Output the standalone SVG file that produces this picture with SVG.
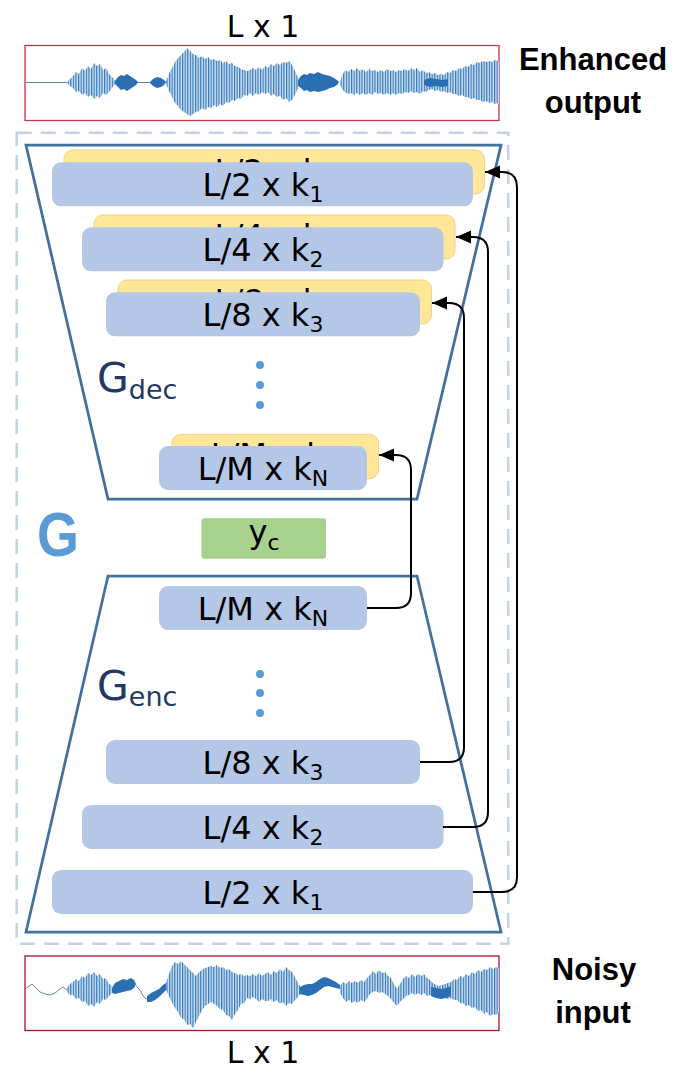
<svg xmlns="http://www.w3.org/2000/svg" width="680" height="1079" viewBox="0 0 680 1079">
<style>
.lbl{font-family:"DejaVu Sans",sans-serif;font-size:32px;fill:#000;text-anchor:middle}
.sub{font-size:22px}
.blue{fill:#b4c7e7}
.yel{fill:#ffe699;stroke:#f2d383;stroke-width:1}
.trap{fill:none;stroke:#41719c;stroke-width:2.75;stroke-linejoin:miter}
.conn{fill:none;stroke:#000;stroke-width:2;marker-end:url(#ah)}
.dot{fill:#5b9bd5}
.bold{font-family:"Liberation Sans",Arial,sans-serif;font-weight:bold;font-size:31px;fill:#000;text-anchor:middle}
.dim{font-family:"DejaVu Sans",sans-serif;font-size:30px;fill:#000;text-anchor:middle}
.gl{font-family:"DejaVu Sans",sans-serif;font-size:41px;fill:#1f3864}
.osc{fill:url(#wvp)}
.blob{fill:#2a6fb3}
.thin{fill:none;stroke:#4a7bb0;stroke-width:0.9}
</style>
<defs>
<marker id="ah" markerUnits="userSpaceOnUse" markerWidth="16" markerHeight="14" refX="15" refY="6.5" orient="auto">
<path d="M0,0 L15,6.5 L0,13 Z" fill="#000"/>
</marker>
<pattern id="wvp" width="2.6" height="8" patternUnits="userSpaceOnUse">
<rect width="2.6" height="8" fill="#d3e4f4"/>
<rect width="1.2" height="8" fill="#2e75b6"/>
</pattern>
</defs>
<rect width="680" height="1079" fill="#fff"/>

<g id="output-wave">
<text class="dim" x="263" y="37">L x 1</text>
<rect x="25" y="45.5" width="474" height="75" fill="#fff" stroke="#c0354a" stroke-width="1.3"/>
<path class="thin" d="M25,82.5 H67 M136,82.5 H152 M164,82.5 H168"/>
<path class="osc" d="M67,82 L70,79 73,76 76,72 79,74 82,68 85,71 88,66 91,69 94,63 97,66 100,64 103,70 106,68 109,74 112,77 115,81 L115,84 112,88 109,92 106,95 103,93 100,98 97,96 94,99 91,95 88,97 85,93 82,95 79,91 76,92 73,88 70,86 67,83 Z
M166,81 L169,74 172,68 175,62 178,58 181,55 184,52 187,48 190,51 193,54 196,55 199,58 202,56 205,59 208,57 211,60 214,59 217,61 220,60 223,63 226,61 229,64 232,63 235,66 238,67 241,69 244,70 247,71 250,70 253,68 256,70 259,67 262,70 265,66 268,68 271,64 274,66 277,63 280,65 283,62 286,63 289,61 292,65 295,71 298,78 L298,88 295,95 292,100 289,102 286,98 283,100 280,96 277,97 274,94 271,96 268,92 265,94 262,92 259,95 256,93 253,96 250,93 247,96 244,95 241,99 238,98 235,101 232,100 229,103 226,102 223,106 220,104 217,107 214,105 211,108 208,107 205,110 202,108 199,111 196,112 193,114 190,116 187,114 184,112 181,110 178,106 175,103 172,97 169,91 166,84 Z
M340,82 L342,76 345,70 348,72 351,69 354,71 357,68 360,71 363,69 366,72 369,69 372,71 375,70 378,72 381,70 384,72 387,69 390,71 393,70 396,72 399,70 402,71 405,69 408,71 411,68 414,70 417,68 420,72 423,70 426,73 429,72 432,74 435,73 438,75 441,74 444,75 447,72 450,73 453,70 456,71 459,68 462,69 465,66 468,67 471,64 474,65 477,62 480,63 483,61 486,62 489,61 492,62 495,60 498,61 499,62 L499,104 498,103 495,104 492,102 489,103 486,101 483,102 480,100 477,100 474,98 471,99 468,97 465,97 462,95 459,96 456,94 453,94 450,92 447,93 444,91 441,92 438,90 435,91 432,89 429,90 426,92 423,91 420,94 417,92 414,93 411,91 408,93 405,92 402,94 399,93 396,95 393,93 390,95 387,93 384,95 381,93 378,94 375,92 372,95 369,93 366,95 363,93 360,95 357,93 354,95 351,93 348,94 345,92 342,89 340,84 Z"/>
<path class="blob" d="M115,81 L118,77 121,75 124,76 127,74 130,76 133,78 136,80 138,82 136,85 133,87 130,89 127,91 124,89 121,90 118,87 115,84 Z
M150,82 L153,79 157,77 161,78 164,80 166,82 164,85 161,87 157,88 153,86 150,83 Z
M298,80 L301,76 304,74 307,75 310,73 314,74 318,72 322,74 326,75 330,76 334,78 337,80 339,82 337,85 334,87 330,88 326,90 322,91 318,92 314,91 310,92 307,90 304,91 301,88 298,86 Z
M424,80 L430,78 436,79 442,80 448,79 448,86 442,87 436,86 430,87 424,85 Z"/>
<text class="bold" x="593" y="70">Enhanced</text>
<text class="bold" x="593" y="113">output</text>
</g>

<g id="G-frame">
<rect x="16.7" y="132.7" width="491.6" height="811" fill="none" stroke="#c3d2e4" stroke-width="2.5" stroke-dasharray="15 9"/>
<text x="37" y="556" font-family="Liberation Sans, Arial, sans-serif" font-weight="bold" font-size="63" fill="#5b9bd5" textLength="42" lengthAdjust="spacingAndGlyphs">G</text>
</g>

<g id="G-dec">
<polygon class="trap" points="26,145 501,145 417,499 108,499"/>
<text class="gl" x="97" y="392">G<tspan font-size="27" dy="6.5">dec</tspan></text>
<circle class="dot" cx="260" cy="365" r="4"/>
<circle class="dot" cx="260" cy="385" r="4"/>
<circle class="dot" cx="260" cy="405" r="4"/>
</g>

<g id="dec1">
<rect class="yel" x="64" y="150" width="420.5" height="44" rx="9"/>
<text class="lbl" x="275" y="181.5">L/2 x k<tspan class="sub" dy="6">1</tspan></text>
<rect class="blue" x="52" y="162.3" width="421" height="44" rx="9"/>
<text class="lbl" x="263" y="196">L/2 x k<tspan class="sub" dy="6">1</tspan></text>
</g>
<g id="dec2">
<rect class="yel" x="94" y="215" width="361" height="44" rx="9"/>
<text class="lbl" x="275" y="246.5">L/4 x k<tspan class="sub" dy="6">2</tspan></text>
<rect class="blue" x="82" y="227.3" width="361.5" height="44" rx="9"/>
<text class="lbl" x="263" y="261">L/4 x k<tspan class="sub" dy="6">2</tspan></text>
</g>
<g id="dec3">
<rect class="yel" x="118" y="280" width="313.5" height="44" rx="9"/>
<text class="lbl" x="275" y="311.5">L/8 x k<tspan class="sub" dy="6">3</tspan></text>
<rect class="blue" x="106" y="292.3" width="314" height="44" rx="9"/>
<text class="lbl" x="263" y="326">L/8 x k<tspan class="sub" dy="6">3</tspan></text>
</g>
<g id="decN">
<rect class="yel" x="172" y="434.3" width="206.5" height="44.5" rx="9"/>
<text class="lbl" x="276" y="465.5">L/M x k<tspan class="sub" dy="6">N</tspan></text>
<rect class="blue" x="159" y="446" width="208" height="44" rx="9"/>
<text class="lbl" x="263" y="480">L/M x k<tspan class="sub" dy="6">N</tspan></text>
</g>

<g id="yc">
<rect x="201.4" y="518.3" width="124.6" height="40.4" rx="3" fill="#a9d18e"/>
<text class="lbl" x="264" y="543">y<tspan font-size="22" dy="7">c</tspan></text>
</g>

<g id="G-enc">
<polygon class="trap" points="108,576 417,576 501,932 26,932"/>
<text class="gl" x="97" y="700">G<tspan font-size="27" dy="6">enc</tspan></text>
<circle class="dot" cx="260" cy="674" r="4"/>
<circle class="dot" cx="260" cy="693" r="4"/>
<circle class="dot" cx="260" cy="713" r="4"/>
</g>

<g id="encN">
<rect class="blue" x="159" y="586" width="208" height="44" rx="9"/>
<text class="lbl" x="263" y="620">L/M x k<tspan class="sub" dy="6">N</tspan></text>
</g>
<g id="enc3">
<rect class="blue" x="106" y="740" width="314" height="44" rx="9"/>
<text class="lbl" x="263" y="774">L/8 x k<tspan class="sub" dy="6">3</tspan></text>
</g>
<g id="enc2">
<rect class="blue" x="82" y="805" width="361.5" height="44" rx="9"/>
<text class="lbl" x="263" y="839">L/4 x k<tspan class="sub" dy="6">2</tspan></text>
</g>
<g id="enc1">
<rect class="blue" x="52" y="870" width="421" height="44" rx="9"/>
<text class="lbl" x="263" y="904">L/2 x k<tspan class="sub" dy="6">1</tspan></text>
</g>

<g id="connectors">
<path class="conn" d="M473,892 H502 Q517,892 517,877 V187 Q517,172 502,172 H485"/>
<path class="conn" d="M443,827 H473 Q488,827 488,812 V252 Q488,237 473,237 H456"/>
<path class="conn" d="M420,762 H449 Q464,762 464,747 V318 Q464,303 449,303 H432"/>
<path class="conn" d="M367,608 H396 Q411,608 411,593 V470 Q411,455 396,455 H379"/>
</g>

<g id="input-wave">
<rect x="25" y="956" width="474" height="74.5" fill="#fff" stroke="#a0192e" stroke-width="1.3"/>
<path class="thin" d="M25,989 L28,987 32,984 36,988 40,992 45,994 50,995 55,993 60,989 63,987 67,990 M136,986 L140,990 143,996 146,999 149,998"/>
<path class="osc" d="M67,988 L70,984 73,982 76,979 79,981 82,976 85,978 88,973 91,975 94,972 97,976 100,974 103,979 106,978 109,984 112,986 L112,993 109,996 106,1000 103,999 100,1004 97,1002 94,1007 91,1004 88,1006 85,1001 82,1002 79,998 76,999 73,995 70,995 67,992 Z
M166,983 L169,974 172,966 175,962 178,964 181,961 184,964 187,967 190,970 193,973 196,976 199,972 202,970 205,968 208,967 211,966 214,967 217,965 220,968 223,967 226,970 229,969 232,972 235,973 238,975 241,974 244,976 247,975 250,976 253,974 256,976 259,973 262,976 265,974 268,972 271,975 274,971 277,973 280,969 283,972 286,967 289,970 292,972 295,977 298,983 300,986 L300,994 298,997 295,1000 292,1004 289,1003 286,1006 283,1002 280,1004 277,1000 274,1002 271,999 268,1001 265,1001 262,999 259,1002 256,999 253,997 250,999 247,998 244,1003 241,1004 238,1010 235,1014 232,1020 229,1016 226,1015 223,1010 220,1009 217,1006 214,1004 211,1002 208,1004 205,1006 202,1010 199,1016 196,1022 193,1028 190,1024 187,1025 184,1019 181,1018 178,1012 175,1008 172,1003 169,996 166,990 Z
M340,986 L343,982 346,984 349,981 352,983 355,981 358,983 361,980 364,982 367,978 370,975 373,971 376,974 379,970 382,973 385,972 388,976 391,978 394,984 397,989 400,984 403,979 406,976 409,978 412,974 415,977 418,974 421,976 424,974 427,978 430,980 433,983 436,985 439,986 442,985 445,984 448,983 451,982 454,979 457,980 460,976 463,978 466,974 469,976 472,972 475,974 478,970 481,972 484,969 487,970 490,967 493,969 496,967 499,968 L499,1012 496,1015 493,1014 490,1016 487,1012 484,1014 481,1010 478,1011 475,1007 472,1008 469,1005 466,1006 463,1003 460,1003 457,1000 454,1000 451,998 448,999 445,998 442,997 439,996 436,997 433,996 430,995 427,996 424,993 421,995 418,993 415,995 412,993 409,995 406,996 403,999 400,1002 397,1006 394,1003 391,999 388,996 385,994 382,992 379,993 376,991 373,992 370,994 367,999 364,1002 361,1000 358,1003 355,1001 352,1003 349,1000 346,1002 343,998 340,993 Z"/>
<path class="blob" d="M112,988 L115,983 119,981 123,979 127,980 131,978 134,980 136,984 134,988 131,990 127,991 123,992 119,993 115,994 112,993 Z
M147,996 L151,993 155,991 159,989 163,985 166,983 166,990 163,993 159,997 155,1000 151,1002 147,1002 Z
M300,987 L304,985 308,984 312,984 316,982 320,979 324,977 328,978 332,980 336,982 340,985 340,989 336,988 332,987 328,986 324,987 320,990 316,993 312,995 308,996 304,995 300,994 Z
M431,987 L436,988 441,989 446,988 451,986 451,996 446,998 441,999 436,998 431,996 Z"/>
<text class="bold" x="594" y="980">Noisy</text>
<text class="bold" x="593" y="1023">input</text>
<text class="dim" x="263" y="1063">L x 1</text>
</g>
</svg>
